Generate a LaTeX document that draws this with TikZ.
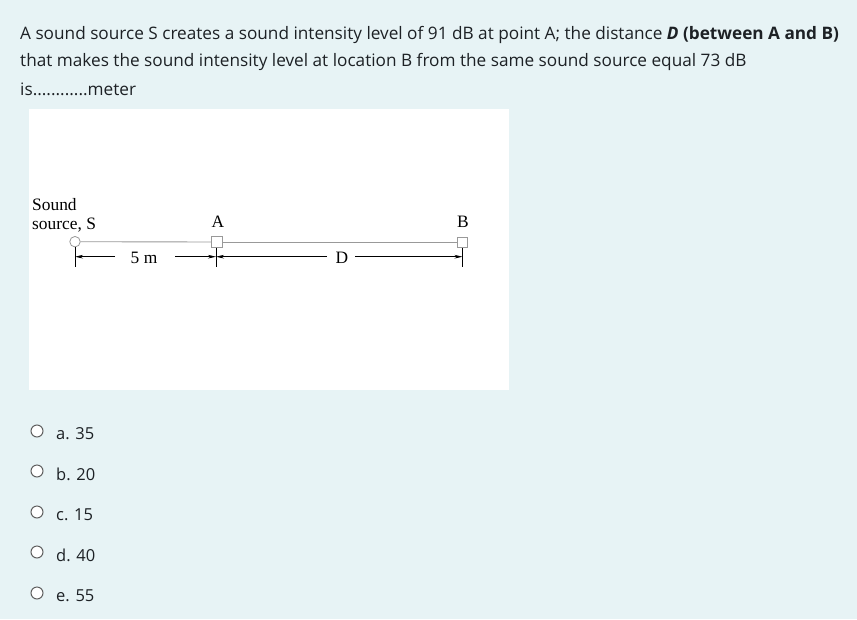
\documentclass[tikz,border=0pt]{standalone}
\usepackage{fontspec}
\setmainfont{Open Sans}
\newfontfamily\diagfont{Liberation Serif}
\usetikzlibrary{arrows.meta}
\definecolor{pagebg}{HTML}{E7F3F5}
\definecolor{txt}{HTML}{1D2125}
\definecolor{radio}{HTML}{5F5F5F}
\begin{document}
\begin{tikzpicture}[x=1pt,y=-1pt,
  qtext/.style={anchor=west,inner sep=0pt,text=txt,font=\fontsize{17.2}{20}\selectfont},
  ctext/.style={anchor=west,inner sep=0pt,text=txt,font=\fontsize{16.5}{20}\selectfont},
  dlabel/.style={inner sep=0pt,font=\diagfont\fontsize{17.4}{19}\selectfont},
  radiobtn/.style={circle,draw=radio,fill=white,line width=1pt,minimum size=12pt,inner sep=0pt},
  dimtip/.style={-{Stealth[length=8pt,width=3.6pt]},line width=0.6pt},
  axisline/.style={draw=gray!80,line width=0.9pt},
  tick/.style={line width=0.6pt}]
\useasboundingbox (0,0) rectangle (857,619);
\fill[pagebg] (0,0) rectangle (857,619);
% question
\node[qtext] (q1) at (20,35) {A sound source S creates a sound intensity level of 91 dB at point A; the distance \textbf{\textit{D}} \textbf{(between A and B)}};
\node[qtext] (q2) at (20,62) {that makes the sound intensity level at location B from the same sound source equal 73 dB};
\node[qtext] (q3) at (20,89) {is............meter};
% figure
\fill[white] (29,109) rectangle (509,390);
\node[dlabel,anchor=west,align=left] (snd) at (32,215) {Sound\\source, S};
\node[circle,draw=gray!80,fill=white,line width=0.8pt,minimum size=10.5pt,inner sep=0pt] (S) at (75,241.7) {};
\node[rectangle,draw=gray!80,fill=white,line width=0.8pt,minimum size=10.5pt,inner sep=0pt] (A) at (217,242) {};
\node[rectangle,draw=gray!80,fill=white,line width=0.8pt,minimum size=10.5pt,inner sep=0pt] (B) at (462.5,242.5) {};
\node[dlabel] (Alab) at (218,222) {A};
\node[dlabel] (Blab) at (463,222) {B};
\draw[axisline] (S.east) -- (A.west);
\draw[axisline] (A.east) -- (B.west |- A.east);
% ticks
\coordinate (tS) at (75,267);
\coordinate (tA) at (216,267);
\coordinate (tB) at (462.5,267);
\draw[tick] (S.south) -- (tS);
\draw[tick] (A.south -| tA) -- (tA);
\draw[tick] (B.south -| tB) -- (tB);
% dimension labels
\node[dlabel] (five) at (144,258) {5 m};
\node[dlabel] (D) at (342,258) {D};
\coordinate (dS) at (75,256.7);
\coordinate (dA) at (216,256.7);
\coordinate (dB) at (462.5,256.7);
\coordinate (fiveL) at (115,256.7);
\coordinate (fiveR) at (175,256.7);
\coordinate (DL) at (327,256.7);
\coordinate (DR) at (355,256.7);
\draw[dimtip] (fiveL) -- (dS);
\draw[dimtip] (fiveR) -- (dA);
\draw[dimtip] (DL) -- (dA);
\draw[dimtip] (DR) -- (dB);
% choices
\foreach \y/\t [count=\i] in {434/a. 35,474/b. 20,515/c. 15,555/d. 40,596/e. 55}{
  \node[radiobtn] (r\i) at (37,\y-3) {};
  \node[ctext] (c\i) at (56,\y) {\t};
}
\end{tikzpicture}
\end{document}
